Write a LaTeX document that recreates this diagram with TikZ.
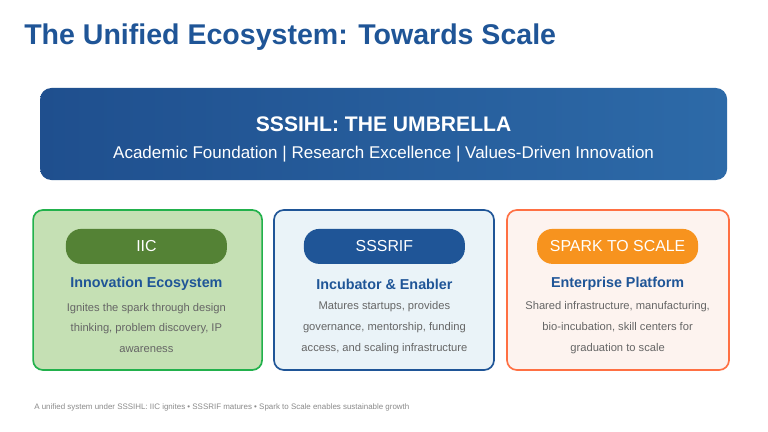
\documentclass[tikz,border=0pt]{standalone}
\usepackage{fontspec}
\setmainfont{Liberation Sans}
\usepackage{xcolor}
\usetikzlibrary{positioning}

\definecolor{titleblue}{HTML}{1F5597}
\definecolor{umbA}{HTML}{1F4F8E}
\definecolor{umbB}{HTML}{2D6AA8}
\definecolor{iicline}{HTML}{22B14C}
\definecolor{iicfill}{HTML}{C5E0B4}
\definecolor{iicpill}{HTML}{548235}
\definecolor{rifline}{HTML}{1F5597}
\definecolor{riffill}{HTML}{EAF3F8}
\definecolor{sparkline}{HTML}{FF7043}
\definecolor{sparkfill}{HTML}{FDF3EF}
\definecolor{sparkpill}{HTML}{F7931E}
\definecolor{bodygray}{HTML}{666666}
\definecolor{notegray}{HTML}{8A8A8A}

\begin{document}
\begin{tikzpicture}[
  card/.style={draw, line width=1.2pt, rounded corners=7pt, minimum height=4cm},
  pill/.style={rounded corners=11pt, minimum width=4.025cm, minimum height=0.875cm, text=white, font=\fontsize{11.3}{13}\selectfont},
  heading/.style={text=titleblue, font=\bfseries\fontsize{10.2}{12}\selectfont},
  desc/.style={text=bodygray, align=center, font=\fontsize{7.95}{14.9}\selectfont}
]
\useasboundingbox[fill=white] (0,0) rectangle (19.2,-10.8);

\node[anchor=west, text=titleblue, font=\bfseries\fontsize{20.3}{24}\selectfont, inner sep=0pt] (title) at (0.6,-0.93) {The Unified Ecosystem: Towards Scale};

% umbrella
\node[rounded corners=8pt, left color=umbA, right color=umbB, minimum width=17.175cm, minimum height=2.3cm] (umb) at (9.59,-3.35) {};
\node[text=white, font=\bfseries\fontsize{15}{18}\selectfont] (umbtitle) at (9.59,-3.1) {SSSIHL: THE UMBRELLA};
\node[text=white, font=\fontsize{12.1}{14}\selectfont] (umbsub) at (9.59,-3.85) {Academic Foundation | Research Excellence | Values-Driven Innovation};

% three cards
\node[card, draw=iicline, fill=iicfill, minimum width=5.725cm] (iic) at (3.69,-7.25) {};
\node[card, draw=rifline, fill=riffill, minimum width=5.5cm] (rif) at (9.6,-7.25) {};
\node[card, draw=sparkline, fill=sparkfill, minimum width=5.55cm] (spark) at (15.45,-7.25) {};

\node[pill, fill=iicpill] (iicpill) at (3.66,-6.16) {IIC};
\node[pill, fill=titleblue] (rifpill) at (9.61,-6.16) {SSSRIF};
\node[pill, fill=sparkpill] (sparkpill) at (15.44,-6.16) {SPARK TO SCALE};

\node[heading] (iichead) at (3.66,-7.1) {Innovation Ecosystem};
\node[heading] (rifhead) at (9.61,-7.1) {Incubator \& Enabler};
\node[heading] (sparkhead) at (15.44,-7.1) {Enterprise Platform};

\node[desc] (iicdesc) at (3.66,-8.2) {Ignites the spark through design\\thinking, problem discovery, IP\\awareness};
\node[desc] (rifdesc) at (9.61,-8.2) {Matures startups, provides\\governance, mentorship, funding\\access, and scaling infrastructure};
\node[desc] (sparkdesc) at (15.44,-8.2) {Shared infrastructure, manufacturing,\\bio-incubation, skill centers for\\graduation to scale};

\node[anchor=west, text=notegray, font=\fontsize{5.65}{6.8}\selectfont, inner sep=0pt] (note) at (0.85,-10.175) {A unified system under SSSIHL: IIC ignites • SSSRIF matures • Spark to Scale enables sustainable growth};
\end{tikzpicture}
\end{document}
